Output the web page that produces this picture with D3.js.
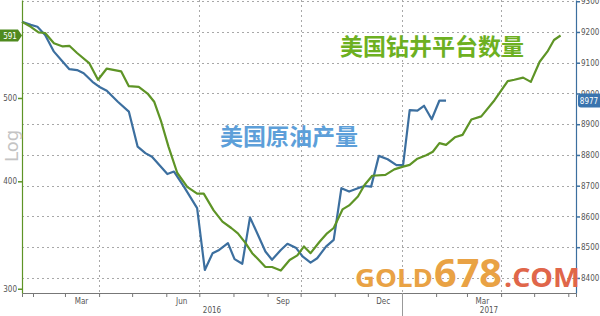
<!DOCTYPE html>
<html>
<head>
<meta charset="utf-8">
<script src="https://cdnjs.cloudflare.com/ajax/libs/d3/7.8.5/d3.min.js"></script>
<style>
  body { margin: 0; background: #fff; }
  svg { display: block; }
  .tick text { font-family: "DejaVu Sans Condensed", "DejaVu Sans", sans-serif; }
</style>
</head>
<body>
<div id="chart"></div>
<script>
// chart size, same as the window
const width = 600;
const height = 316;
const margin = {left: 22, right: 24, top: 0, bottom: 23};

// rig count (left, log axis)
const rigDates = ["2016-01-22","2016-01-30","2016-02-06","2016-02-12","2016-02-20","2016-02-28","2016-03-05","2016-03-12","2016-03-23","2016-03-31",
  "2016-04-08","2016-04-21","2016-04-28","2016-05-07","2016-05-15","2016-05-21","2016-05-27","2016-06-03","2016-06-11","2016-06-20",
  "2016-06-29","2016-07-05","2016-07-14","2016-07-22","2016-07-30","2016-08-05","2016-08-12","2016-08-18","2016-08-23","2016-08-30",
  "2016-09-05","2016-09-13","2016-09-21","2016-09-28","2016-10-04","2016-10-10","2016-10-18","2016-10-25","2016-10-31","2016-11-08",
  "2016-11-14","2016-11-22","2016-11-28","2016-12-05","2016-12-17","2016-12-25","2017-01-02","2017-01-08","2017-01-15","2017-01-23",
  "2017-01-29","2017-02-04","2017-02-10","2017-02-18","2017-02-25","2017-03-05","2017-03-14","2017-03-26","2017-04-07","2017-04-13",
  "2017-04-21","2017-04-28","2017-05-06","2017-05-13","2017-05-19","2017-05-25"];
const rigValues = [613,605,596,595,579,574,575,564,549,525,
  541,537,516,515,506,495,471,439,409,394,
  387,387,370,359,353,348,339,330,325,318,
  318,315,324,328,336,330,340,348,353,371,
  375,384,396,406,407,413,416,418,425,429,
  433,443,441,450,453,472,476,497,523,525,
  528,522,551,566,584,591];

// crude output (right axis)
const oilDates = ["2016-01-22","2016-01-30","2016-02-05","2016-02-12","2016-02-20","2016-02-28","2016-03-05","2016-03-12","2016-03-18","2016-03-26",
  "2016-04-01","2016-04-08","2016-04-18","2016-04-28","2016-05-06","2016-05-13","2016-05-19","2016-06-02","2016-06-08","2016-06-17",
  "2016-06-29","2016-07-06","2016-07-13","2016-07-19","2016-07-27","2016-08-02","2016-08-09","2016-08-16","2016-08-24","2016-08-30",
  "2016-09-05","2016-09-13","2016-09-19","2016-09-27","2016-10-03","2016-10-10","2016-10-16","2016-10-24","2016-10-31","2016-11-07",
  "2016-11-14","2016-11-22","2016-11-28","2016-12-04","2016-12-11","2016-12-19","2016-12-27","2017-01-02","2017-01-08","2017-01-15",
  "2017-01-21","2017-01-28","2017-02-04","2017-02-10"];
const oilValues = [9233,9223,9217,9190,9136,9103,9079,9076,9066,9038,
  9022,9009,8973,8941,8827,8806,8794,8738,8746,8697,
  8627,8426,8480,8491,8513,8461,8446,8597,8534,8486,
  8459,8491,8511,8497,8469,8450,8464,8502,8524,8692,
  8681,8692,8699,8697,8797,8786,8767,8767,8946,8944,
  8960,8916,8977,8977];

// axis labels
const leftTicks = [300, 400, 500];
const rightTicks = [8400, 8500, 8600, 8700, 8800, 8900, 9000, 9100, 9200, 9300];
const monthLabels = ["Mar", "Jun", "Sep", "Dec", "Mar"];
const monthLabelDates = ["2016-03-16", "2016-06-15", "2016-09-15", "2016-12-15", "2017-03-15"];
const gridDates = ["2016-04-01", "2016-07-01", "2016-10-01", "2017-01-01", "2017-04-01"];
const yearLabels = ["2016", "2017"];

const parse = d3.timeParse("%Y-%m-%d");
const rigData = rigDates.map((d, i) => ({date: parse(d), value: rigValues[i]}));
const oilData = oilDates.map((d, i) => ({date: parse(d), value: oilValues[i]}));

const green = "#5e9426";
const blue = "#3c6f9f";

const svg = d3.select("#chart")
  .append("svg")
  .attr("width", width)
  .attr("height", height);

// scales
const x = d3.scaleTime()
  .domain([parse("2016-01-22"), parse("2017-06-08")])
  .range([margin.left, width - margin.right]);

const yLeft = d3.scaleLog()
  .domain([296.6, 650])
  .range([height - margin.bottom, margin.top]);

const yRight = d3.scaleLinear()
  .domain([8351, 9304])
  .range([height - margin.bottom, margin.top]);

// dotted grid
svg.append("g")
  .selectAll("line")
  .data(rightTicks)
  .join("line")
    .attr("x1", margin.left)
    .attr("x2", width - margin.right)
    .attr("y1", d => Math.round(yRight(d)) + 0.5)
    .attr("y2", d => Math.round(yRight(d)) + 0.5)
    .attr("stroke", "#a8a8a8")
    .attr("stroke-dasharray", "2,3");

svg.append("g")
  .selectAll("line")
  .data(gridDates.map(parse))
  .join("line")
    .attr("x1", d => Math.round(x(d)) + 0.5)
    .attr("x2", d => Math.round(x(d)) + 0.5)
    .attr("y1", margin.top)
    .attr("y2", height - margin.bottom)
    .attr("stroke", "#a8a8a8")
    .attr("stroke-dasharray", "2,3");

// bottom axis with monthly ticks
const xAxis = svg.append("g")
  .attr("transform", `translate(0,${height - margin.bottom})`)
  .call(d3.axisBottom(x).ticks(d3.timeMonth.every(1)).tickSize(4).tickFormat(""));
xAxis.select(".domain").attr("stroke", "#777");
xAxis.selectAll(".tick line").attr("stroke", "#777");

// year separator
const jan17 = parse("2017-01-01");
svg.append("line")
  .attr("x1", Math.round(x(jan17)) + 0.5)
  .attr("x2", Math.round(x(jan17)) + 0.5)
  .attr("y1", height - margin.bottom)
  .attr("y2", height)
  .attr("stroke", "#999");

svg.append("g")
  .selectAll("text")
  .data(monthLabels)
  .join("text")
    .attr("x", (d, i) => x(parse(monthLabelDates[i])))
    .attr("y", height - margin.bottom + 11)
    .attr("text-anchor", "middle")
    .attr("font-family", "DejaVu Sans Condensed, DejaVu Sans, sans-serif")
    .attr("font-size", "8px")
    .attr("fill", "#555")
    .text(d => d);

// years centred on their part of the axis
const xDomain = x.domain();
svg.append("g")
  .selectAll("text")
  .data(yearLabels)
  .join("text")
    .attr("x", d => {
      const a = d3.max([xDomain[0], new Date(+d, 0, 1)]);
      const b = d3.min([xDomain[1], new Date(+d + 1, 0, 1)]);
      return (x(a) + x(b)) / 2;
    })
    .attr("y", height - 3)
    .attr("text-anchor", "middle")
    .attr("font-family", "DejaVu Sans Condensed, DejaVu Sans, sans-serif")
    .attr("font-size", "8px")
    .attr("fill", "#555")
    .text(d => d);

// left log axis
const leftAxis = svg.append("g")
  .attr("transform", `translate(${margin.left},0)`)
  .call(d3.axisLeft(yLeft).tickValues(leftTicks).tickSize(4).tickSizeOuter(0).tickFormat(d3.format("d")));
leftAxis.select(".domain").attr("stroke", green).attr("stroke-width", 1.2);
leftAxis.selectAll(".tick line").attr("stroke", green).attr("stroke-width", 1.5);
leftAxis.selectAll(".tick text").attr("fill", "#555").attr("font-size", "8px").attr("x", -5);

// right linear axis
const rightAxis = svg.append("g")
  .attr("transform", `translate(${width - margin.right},0)`)
  .call(d3.axisRight(yRight).tickValues(rightTicks).tickSize(4).tickSizeOuter(0).tickFormat(d3.format("d")));
rightAxis.select(".domain").attr("stroke", blue).attr("stroke-width", 1.2);
rightAxis.selectAll(".tick line").attr("stroke", blue).attr("stroke-width", 1.5);
rightAxis.selectAll(".tick text").attr("fill", "#555").attr("font-size", "8px").attr("x", 5);

// "Log" note
svg.append("text")
  .attr("transform", "translate(18,146) rotate(-90)")
  .attr("text-anchor", "middle")
  .attr("font-family", "DejaVu Sans, sans-serif")
  .attr("font-size", "18px")
  .attr("fill", "#c4c4c4")
  .text("Log");

// lines
const rigLine = d3.line()
  .x(d => x(d.date))
  .y(d => yLeft(d.value));

const oilLine = d3.line()
  .x(d => x(d.date))
  .y(d => yRight(d.value));

svg.append("path")
  .datum(oilData)
  .attr("fill", "none")
  .attr("stroke", blue)
  .attr("stroke-width", 2.2)
  .attr("stroke-linejoin", "round")
  .attr("d", oilLine);

svg.append("path")
  .datum(rigData)
  .attr("fill", "none")
  .attr("stroke", green)
  .attr("stroke-width", 2.2)
  .attr("stroke-linejoin", "round")
  .attr("d", rigLine);

// last value markers
const lastRig = rigData[rigData.length - 1];
const yl = yLeft(lastRig.value);
svg.append("path")
  .attr("d", `M0,${yl - 6}H18L22,${yl}L18,${yl + 6}H0Z`)
  .attr("fill", "#4f8a1e");
svg.append("text")
  .attr("x", 10)
  .attr("y", yl + 3)
  .attr("text-anchor", "middle")
  .attr("font-family", "DejaVu Sans Condensed, DejaVu Sans, sans-serif")
  .attr("font-size", "8px")
  .attr("fill", "#fff")
  .text(lastRig.value);

const lastOil = oilData[oilData.length - 1];
const yr = yRight(lastOil.value);
svg.append("rect")
  .attr("x", width - margin.right + 2)
  .attr("y", yr - 7)
  .attr("width", 24)
  .attr("height", 14)
  .attr("rx", 3)
  .attr("fill", "#3a74ae");
svg.append("text")
  .attr("x", width - margin.right + 13)
  .attr("y", yr + 3)
  .attr("text-anchor", "middle")
  .attr("font-family", "DejaVu Sans Condensed, DejaVu Sans, sans-serif")
  .attr("font-size", "8px")
  .attr("fill", "#fff")
  .text(lastOil.value);

// series names
svg.append("text")
  .attr("x", 340)
  .attr("y", 55)
  .attr("font-family", "Noto Sans CJK SC, sans-serif")
  .attr("font-weight", "bold")
  .attr("font-size", "23px")
  .attr("fill", "#6db021")
  .text("美国钻井平台数量");

svg.append("text")
  .attr("x", 220)
  .attr("y", 145)
  .attr("font-family", "Noto Sans CJK SC, sans-serif")
  .attr("font-weight", "bold")
  .attr("font-size", "23px")
  .attr("fill", "#5d9fd9")
  .text("美国原油产量");

// watermark
const mark = svg.append("g")
  .attr("font-family", "Open Sans, sans-serif")
  .attr("font-weight", "bold");
mark.append("text").attr("x", 355).attr("y", 287).attr("font-size", "25px")
  .attr("textLength", 78).attr("lengthAdjust", "spacingAndGlyphs")
  .attr("fill", "#e9a244").text("GOLD");
mark.append("text").attr("x", 434).attr("y", 287).attr("font-size", "40px")
  .attr("textLength", 68).attr("lengthAdjust", "spacingAndGlyphs")
  .attr("fill", "#e9a244").text("678");
mark.append("text").attr("x", 504).attr("y", 287).attr("font-size", "27px")
  .attr("textLength", 76).attr("lengthAdjust", "spacingAndGlyphs")
  .attr("fill", "#e0664a").text(".COM");
</script>
</body>
</html>
